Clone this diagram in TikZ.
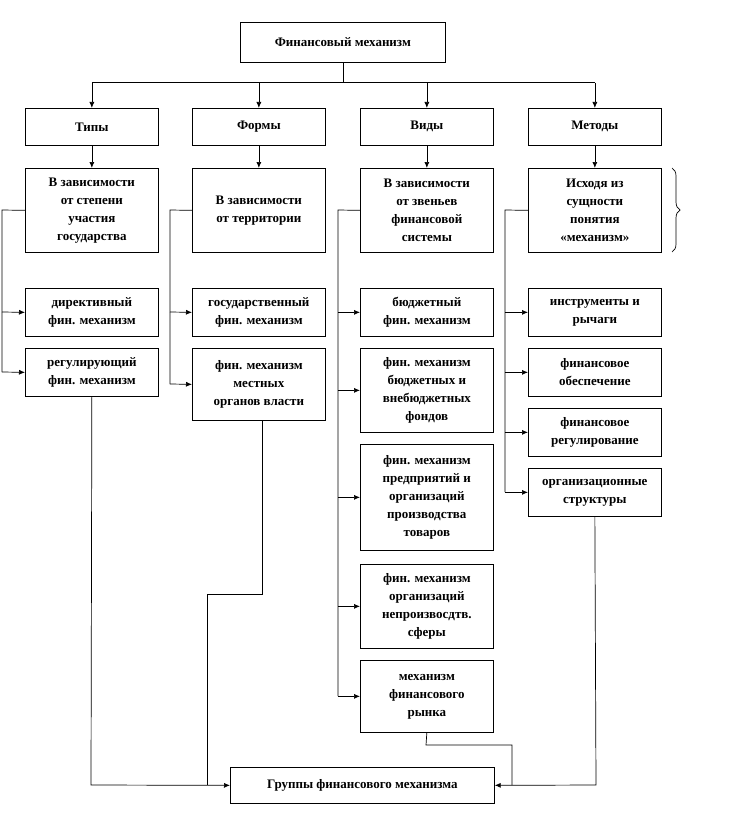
\documentclass[tikz,border=0pt]{standalone}
\usepackage{fontspec}
\setmainfont{Liberation Serif}
\usetikzlibrary{arrows.meta,decorations.pathreplacing}
\begin{document}
\begin{tikzpicture}[x=1pt,y=-1pt,
  bx/.style={draw,line width=0.7pt,anchor=north west,inner sep=0pt,align=center,font=\bfseries\fontsize{13}{18}\selectfont},
  ln/.style={line width=0.7pt},
  ar/.style={ln,-{Latex[length=6pt,width=5pt]}}]
\useasboundingbox (0,0) rectangle (736,840);
\newcommand{\bb}[5]{\node[bx,minimum width=#3,minimum height=#4] (#1) at #2 {#5};}
\bb{top}{(240,22)}{205}{40}{Финансовый механизм}
\bb{h1}{(25,108)}{133}{37}{Типы}
\bb{h2}{(192,108)}{133}{37}{Формы}
\bb{h3}{(360,108)}{133}{37}{Виды}
\bb{h4}{(528,108)}{133}{37}{Методы}
\bb{a1}{(25,168)}{133}{84}{В зависимости\\от степени\\участия\\государства}
\bb{a2}{(192,168)}{133}{84}{В зависимости\\от территории}
\bb{a3}{(360,168)}{133}{84}{В зависимости\\от звеньев\\финансовой\\системы}
\bb{a4}{(528,168)}{133}{84}{Исходя из\\сущности\\понятия\\«механизм»}
\bb{b1}{(25,288)}{133}{48}{директивный\\фин. механизм}
\bb{b2}{(25,348)}{133}{48}{регулирующий\\фин. механизм}
\bb{c1}{(192,288)}{133}{48}{государственный\\фин. механизм}
\bb{c2}{(192,348)}{133}{72}{фин. механизм\\местных\\органов власти}
\bb{d1}{(360,288)}{133}{48}{бюджетный\\фин. механизм}
\bb{d2}{(360,348)}{133}{84}{фин. механизм\\бюджетных и\\внебюджетных\\фондов}
\bb{d3}{(360,444)}{133}{106}{фин. механизм\\предприятий и\\организаций\\производства\\товаров}
\bb{d4}{(360,564)}{133}{84}{фин. механизм\\организаций\\непроизвосдтв.\\сферы}
\bb{d5}{(360,660)}{133}{72}{механизм\\финансового\\рынка}
\bb{e1}{(528,288)}{133}{48}{инструменты и\\рычаги}
\bb{e2}{(528,348)}{133}{48}{финансовое\\обеспечение}
\bb{e3}{(528,408)}{133}{48}{финансовое\\регулирование}
\bb{e4}{(528,468)}{133}{48}{организационные\\структуры}
\bb{g}{(230,767)}{264}{36}{Группы финансового механизма}
% top bus
\draw[ln] (top.south) -- ++(0,20) coordinate (bus);
\draw[ln] (h1.north |- bus) -- (h4.north |- bus);
\foreach \h in {h1,h2,h3,h4} \draw[ar] (\h.north |- bus) -- (\h.north);
\draw[ar] (h1) -- (a1); \draw[ar] (h2) -- (a2); \draw[ar] (h3) -- (a3); \draw[ar] (h4) -- (a4);
% side buses
\draw[ln] (a1.west) -- (2,210) -- (2,372);
\draw[ar] (2,312) -- (b1.west); \draw[ar] (2,372) -- (b2.west);
\draw[ln] (a2.west) -- (170,210) -- (170,384);
\draw[ar] (170,312) -- (c1.west); \draw[ar] (170,384) -- (c2.west);
\draw[ln] (a3.west) -- (338,210) -- (338,696);
\foreach \n in {d1,d2,d3,d4,d5} \draw[ar] (338,0 |- \n.west) -- (\n.west);
\draw[ln] (a4.west) -- (505,210) -- (505,492);
\foreach \n in {e1,e2,e3,e4} \draw[ar] (505,0 |- \n.west) -- (\n.west);
% brace
\draw[ln,decorate,decoration={brace,amplitude=8pt}] (672,168) -- (672,252);
% bottom connections
\draw[ar] (b2.south) -- (91,785) -- (g.west);
\draw[ln] (262,420) -- (262,594) -- (207,594) -- (207,785);
\draw[ln] (d5.south) -- (426,745) -- (512,745) -- (512,785);
\draw[ar] (e4.south) -- (596,785) -- (g.east);
\end{tikzpicture}
\end{document}
